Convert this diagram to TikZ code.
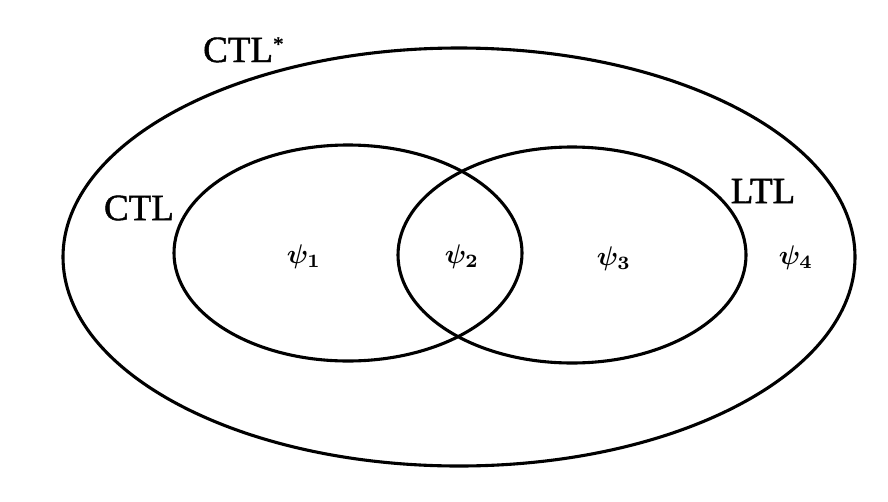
\documentclass[tikz,border=0pt]{standalone}
\usepackage{fontspec}
\setmainfont{Liberation Serif}
\newfontfamily\heavyserif{Liberation Serif}[FakeBold=1.2]
\usetikzlibrary{shapes.geometric}
\newcommand{\bigpsi}[1]{\scalebox{2.7}{\boldmath$\psi_{#1}$}}
\begin{document}
\begin{tikzpicture}[x=1pt,y=-1pt,
  setline/.style={draw=black, line width=3.1pt, ellipse, inner sep=0pt},
  setlabel/.style={font=\heavyserif\fontsize{37}{40}\selectfont, inner sep=0pt},
  elem/.style={inner sep=0pt}]
\useasboundingbox (0,0) rectangle (888,501);
\node[setline, minimum width=792pt, minimum height=418pt] (ctlstar) at (459,257) {};
\node[setline, minimum width=348pt, minimum height=216pt] (ctl) at (348,253) {};
\node[setline, minimum width=348pt, minimum height=216pt] (ltl) at (572,255) {};
\node[setlabel, anchor=base west] (lctlstar) at (203,62) {CTL\raisebox{11pt}{\fontsize{21}{22}\selectfont *}};
\node[setlabel] (lctl) at (139,208) {CTL};
\node[setlabel] (lltl) at (763,191) {LTL};
\node[elem] (p1) at (304,257) {\bigpsi{1}};
\node[elem] (p2) at (462,257) {\bigpsi{2}};
\node[elem] (p3) at (614,259) {\bigpsi{3}};
\node[elem] (p4) at (796,258) {\bigpsi{4}};
\end{tikzpicture}
\end{document}
